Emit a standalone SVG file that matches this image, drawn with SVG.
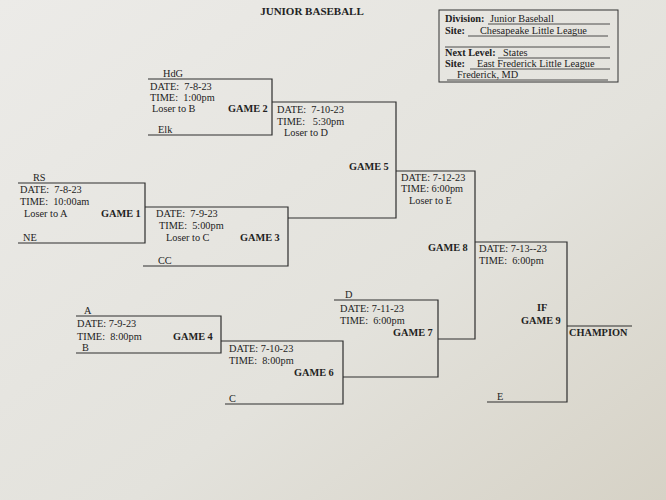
<svg xmlns="http://www.w3.org/2000/svg" width="666" height="500" viewBox="0 0 666 500" xml:space="preserve">
<defs>
<linearGradient id="paper" x1="0" y1="0" x2="1" y2="1">
<stop offset="0" stop-color="#ecebe8"/>
<stop offset="0.6" stop-color="#e3e2dc"/>
<stop offset="1" stop-color="#d6d2c6"/>
</linearGradient>
<style>
text{font-family:"Liberation Serif","Times New Roman",serif;font-size:10.3px;fill:#222;white-space:pre}
.b{font-weight:bold}
.t{font-size:11px;font-weight:bold}
.ln{fill:none;stroke:#2e2e2e;stroke-width:1.2}
.ul{stroke:#3a3a3a;stroke-width:0.9}
</style>
</defs>
<rect width="666" height="500" fill="url(#paper)"/>
<text class="t" x="312" y="15" text-anchor="middle">JUNIOR BASEBALL</text>
<g id="info">
<rect x="439" y="10" width="179" height="72" fill="none" stroke="#333" stroke-width="1"/>
<text class="b" x="445" y="22">Division:</text><text x="490" y="22">Junior Baseball</text>
<line class="ul" x1="488" y1="24" x2="610" y2="24"/>
<text class="b" x="445" y="34">Site:</text><text x="480" y="34">Chesapeake Little League</text>
<line class="ul" x1="468" y1="36" x2="608" y2="36"/>
<line class="ul" x1="445" y1="47" x2="610" y2="47"/>
<text class="b" x="445" y="56">Next Level:</text><text x="503" y="56">States</text>
<line class="ul" x1="498" y1="58" x2="610" y2="58"/>
<text class="b" x="445" y="67">Site:</text><text x="477" y="67">East Frederick Little League</text>
<line class="ul" x1="470" y1="69" x2="610" y2="69"/>
<text x="457" y="78">Frederick, MD</text>
<line class="ul" x1="447" y1="80" x2="608" y2="80"/>
</g>
<g id="connectors">
<path class="ln" d="M18,183 H145 V243 H18"/>
<path class="ln" d="M148,79 H272 V135 H148"/>
<path class="ln" d="M145,207 H288 V266 H143"/>
<path class="ln" d="M272,102 H396 V218 H288"/>
<path class="ln" d="M396,171 H475 V339 H438"/>
<path class="ln" d="M334,300 H438 V377 H343"/>
<path class="ln" d="M221,341 H343 V404 H225"/>
<path class="ln" d="M76,316 H221 V353 H76"/>
<path class="ln" d="M475,242 H567 V402 H487"/>
<path class="ln" d="M567,326 H632"/>
</g>
<g id="game1">
<text x="33" y="181">RS</text>
<text x="20" y="193">DATE:  7-8-23</text>
<text x="20" y="205">TIME:  10:00am</text>
<text x="24" y="217">Loser to A</text>
<text class="b" x="101" y="217">GAME 1</text>
<text x="23" y="241">NE</text>
</g>
<g id="game2">
<text x="163" y="77">HdG</text>
<text x="150" y="90">DATE:  7-8-23</text>
<text x="150" y="101">TIME:  1:00pm</text>
<text x="152" y="112">Loser to B</text>
<text class="b" x="228" y="112">GAME 2</text>
<text x="158" y="133">Elk</text>
</g>
<g id="game3">
<text x="156" y="217">DATE:  7-9-23</text>
<text x="159" y="229">TIME:  5:00pm</text>
<text x="166" y="241">Loser to C</text>
<text class="b" x="240" y="241">GAME 3</text>
<text x="158" y="264">CC</text>
</g>
<g id="game5">
<text x="277" y="113">DATE:  7-10-23</text>
<text x="277" y="125">TIME:   5:30pm</text>
<text x="284" y="136">Loser to D</text>
<text class="b" x="349" y="170">GAME 5</text>
</g>
<g id="game8">
<text x="401" y="181">DATE: 7-12-23</text>
<text x="401" y="192">TIME: 6:00pm</text>
<text x="409" y="204">Loser to E</text>
<text class="b" x="428" y="251">GAME 8</text>
</g>
<g id="game4">
<text x="84" y="314">A</text>
<text x="77" y="327">DATE: 7-9-23</text>
<text x="77" y="340">TIME:  8:00pm</text>
<text class="b" x="173" y="340">GAME 4</text>
<text x="82" y="351">B</text>
</g>
<g id="game6">
<text x="229" y="352">DATE: 7-10-23</text>
<text x="229" y="364">TIME:  8:00pm</text>
<text class="b" x="294" y="376">GAME 6</text>
<text x="229" y="402">C</text>
</g>
<g id="game7">
<text x="345" y="298">D</text>
<text x="340" y="312">DATE: 7-11-23</text>
<text x="340" y="324">TIME:  6:00pm</text>
<text class="b" x="393" y="336">GAME 7</text>
</g>
<g id="game9">
<text x="479" y="252">DATE: 7-13--23</text>
<text x="479" y="264">TIME:  6:00pm</text>
<text class="b" x="537" y="311">IF</text>
<text class="b" x="521" y="324">GAME 9</text>
<text x="497" y="400">E</text>
</g>
<g id="champion">
<text class="b" x="569" y="336">CHAMPION</text>
</g>
</svg>
